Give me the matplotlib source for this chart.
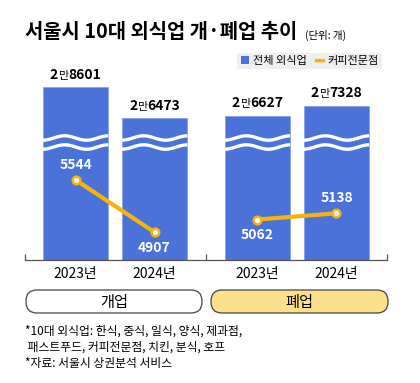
import matplotlib
matplotlib.use("Agg")
import matplotlib.pyplot as plt
import matplotlib.transforms as transforms
from matplotlib.patches import FancyBboxPatch, Patch
from matplotlib.lines import Line2D
from matplotlib.offsetbox import TextArea, HPacker, AnnotationBbox
import numpy as np

plt.rcParams['font.family'] = ['Noto Sans CJK KR', 'DejaVu Sans']

# data
years = ["2023년", "2024년", "2023년", "2024년"]
groups = ["개업", "폐업"]
total = [28601, 26473, 26627, 27328]      # 전체 외식업
coffee = [5544, 4907, 5062, 5138]         # 커피전문점

BLUE = "#4a72d8"
ORANGE = "#f6b40a"
xs = np.array([0, 1, 2.3, 3.3])
BARW = 0.83

fig = plt.figure(figsize=(4.2, 3.83), dpi=100)
L, W = 25 / 420, 362 / 420
ax_top = fig.add_axes([L, 1 - 143 / 383, W, 73 / 383])
ax = fig.add_axes([L, 1 - 260 / 383, W, 117 / 383])
bg = fig.add_axes([0, 0, 1, 1], zorder=5)
bg.set_xlim(0, 420)
bg.set_ylim(383, 0)
bg.axis("off")

for a in (ax_top, ax):
    a.bar(xs, total, width=BARW, color=BLUE, edgecolor="#7f9ee8", linewidth=0.5)
    a.set_xlim(-0.64, 3.94)
    for s in a.spines.values():
        s.set_visible(False)
    a.set_yticks([])
    a.patch.set_alpha(0)

ax_top.set_ylim(24757, 29791)
ax_top.set_xticks([])
ax.set_ylim(4570, 5993)

# baseline with small ticks at the ends and between groups
ax.spines["bottom"].set_visible(True)
ax.spines["bottom"].set_color("#555555")
ax.spines["bottom"].set_linewidth(0.9)
ax.set_xticks(xs)
ax.set_xticklabels(years, fontsize=10)
ax.tick_params(axis="x", which="major", length=0, pad=5)
ax.set_xticks([-0.64, 1.65, 3.94], minor=True)
ax.tick_params(axis="x", which="minor", direction="in", length=4, color="#555555", width=0.9)

# top value labels: 2만8601
for x, v in zip(xs, total):
    man, rest = divmod(v, 10000)
    box = HPacker(children=[
        TextArea(str(man), textprops=dict(fontsize=10, fontweight="bold")),
        TextArea("만", textprops=dict(fontsize=8)),
        TextArea("%04d" % rest, textprops=dict(fontsize=10, fontweight="bold")),
    ], align="baseline", pad=0, sep=0)
    ab = AnnotationBbox(box, (x, v), xybox=(0, 4), xycoords="data",
                        boxcoords="offset points", box_alignment=(0.5, 0),
                        frameon=False, annotation_clip=False)
    ax_top.add_artist(ab)

# break waves (drawn on the overlay so both lines stay visible)
wt = transforms.blended_transform_factory(ax.transData, bg.transData)
for x in xs:
    wx = np.linspace(x - BARW / 2, x + BARW / 2, 80)
    ph = (wx - (x - BARW / 2)) / BARW * 1.5 * 2 * np.pi
    for y0 in (138, 147):
        bg.plot(wx, y0 + 2.2 * np.cos(ph), color="white", lw=2.4,
                transform=wt, clip_on=False, solid_capstyle="butt")

# coffee lines
for g in range(2):
    sl = slice(2 * g, 2 * g + 2)
    ax.plot(xs[sl], coffee[sl], color=ORANGE, lw=3, marker="o", ms=5.5,
            mfc="white", mec=ORANGE, mew=1.8, zorder=3)
offsets = [11, -11, -11, 11]
for x, v, o in zip(xs, coffee, offsets):
    ax.annotate(str(v), (x, v), xytext=(0, o), textcoords="offset points",
                ha="center", va="center", color="white", fontsize=10,
                fontweight="bold")

# title
bg.text(25, 32, "서울시 10대 외식업 개·폐업 추이", fontsize=14.3, fontweight="bold",
        va="center", ha="left")
bg.text(305, 35, "(단위: 개)", fontsize=7.5, va="center", ha="left")

# legend
handles = [Patch(facecolor=BLUE, edgecolor="none"),
           Line2D([], [], color=ORANGE, lw=2.5)]
leg = fig.legend(handles, ["전체 외식업", "커피전문점"], loc="upper right",
                 bbox_to_anchor=(388 / 420, 1 - 47 / 383), ncol=2, fontsize=8,
                 frameon=True, fancybox=False, facecolor="#efefef", edgecolor="none",
                 handlelength=0.7, handleheight=0.7, handletextpad=0.4,
                 columnspacing=0.8, borderpad=0.3, framealpha=1)

# group pills
for (x0, x1), name, fc in zip([(26, 202), (211, 388)], groups, ["white", "#ffe08a"]):
    bg.add_patch(FancyBboxPatch((x0, 290), x1 - x0, 23, boxstyle="round,pad=0,rounding_size=11",
                                facecolor=fc, edgecolor="#444444", linewidth=0.9))
    bg.text((x0 + x1) / 2, 302, name, fontsize=11, ha="center", va="center")

# notes
notes = ["*10대 외식업: 한식, 중식, 일식, 양식, 제과점,",
         " 패스트푸드, 커피전문점, 치킨, 분식, 호프",
         "*자료: 서울시 상권분석 서비스"]
for i, t in enumerate(notes):
    bg.text(25, 331 + 16 * i, t, fontsize=8.5, va="center", ha="left")

fig.savefig("out.png", dpi=100)
